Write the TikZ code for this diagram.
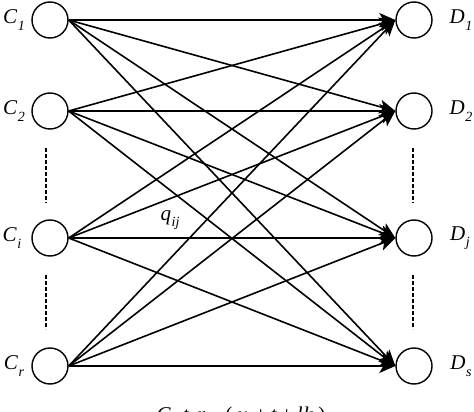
\documentclass[tikz,border=0pt]{standalone}
\usepackage{fontspec}
\setmainfont{Liberation Serif}
\usetikzlibrary{arrows.meta}
\newcommand{\lbl}[2]{\textit{#1}\kern0.5pt\raisebox{-0.32em}{\fontsize{14}{14}\selectfont\textit{#2}}}
\tikzset{
  vert/.style={circle,draw,line width=1.4pt,minimum size=36pt,inner sep=0pt},
  lab/.style={font=\fontsize{21}{22}\selectfont,inner sep=0pt},
  edge/.style={line width=1.6pt,-{Stealth[length=16pt,width=14pt,inset=4pt]}},
  dots/.style={line width=2.6pt,dash pattern=on 3.5pt off 2.5pt}
}
\begin{document}
\begin{tikzpicture}[x=1pt,y=-1pt]
\clip (0,0) rectangle (474,412);
\node[vert] (c1) at (50,20) {};
\node[vert] (c2) at (50,111) {};
\node[vert] (ci) at (50,238) {};
\node[vert] (cr) at (50,366) {};
\node[vert] (d1) at (414,20) {};
\node[vert] (d2) at (414,111) {};
\node[vert] (dj) at (414,238) {};
\node[vert] (ds) at (414,366) {};
\node[lab] (lc1) at (14,20) {\lbl{C}{1}};
\node[lab] (lc2) at (14,111) {\lbl{C}{2}};
\node[lab] (lci) at (12,238) {\lbl{C}{i}};
\node[lab] (lcr) at (14,366) {\lbl{C}{r}};
\node[lab] (ld1) at (461,20) {\lbl{D}{1}};
\node[lab] (ld2) at (461,111) {\lbl{D}{2}};
\node[lab] (ldj) at (460,238) {\lbl{D}{j}};
\node[lab] (lds) at (461,366) {\lbl{D}{s}};
\coordinate (a1) at (46,148); \coordinate (a2) at (46,203);
\coordinate (b1) at (46,275); \coordinate (b2) at (46,329);
\coordinate (e1) at (413,148); \coordinate (e2) at (413,203);
\coordinate (f1) at (413,275); \coordinate (f2) at (413,329);
\draw[dots] (a1) -- (a2);
\draw[dots] (b1) -- (b2);
\draw[dots] (e1) -- (e2);
\draw[dots] (f1) -- (f2);
\foreach \c in {c1,c2,ci,cr}{
  \foreach \d in {d1,d2,dj,ds}{
    \draw[edge] (\c.east) -- (\d.west);
  }
}
\node[lab] (q) at (170,220) {\textit{q}\kern0.5pt\raisebox{-0.32em}{\fontsize{14}{14}\selectfont\textit{ij}}};
\node[lab,anchor=base] (cap) at (241,421) {\textit{C}\kern12pt\textit{t}\kern8pt\textit{r}\kern20pt(\kern5pt\textit{u}\kern7pt+\kern4pt\textit{t}\kern4pt+\kern4pt\textit{l}\kern1pt\textit{k}\kern5pt)};
\end{tikzpicture}
\end{document}
